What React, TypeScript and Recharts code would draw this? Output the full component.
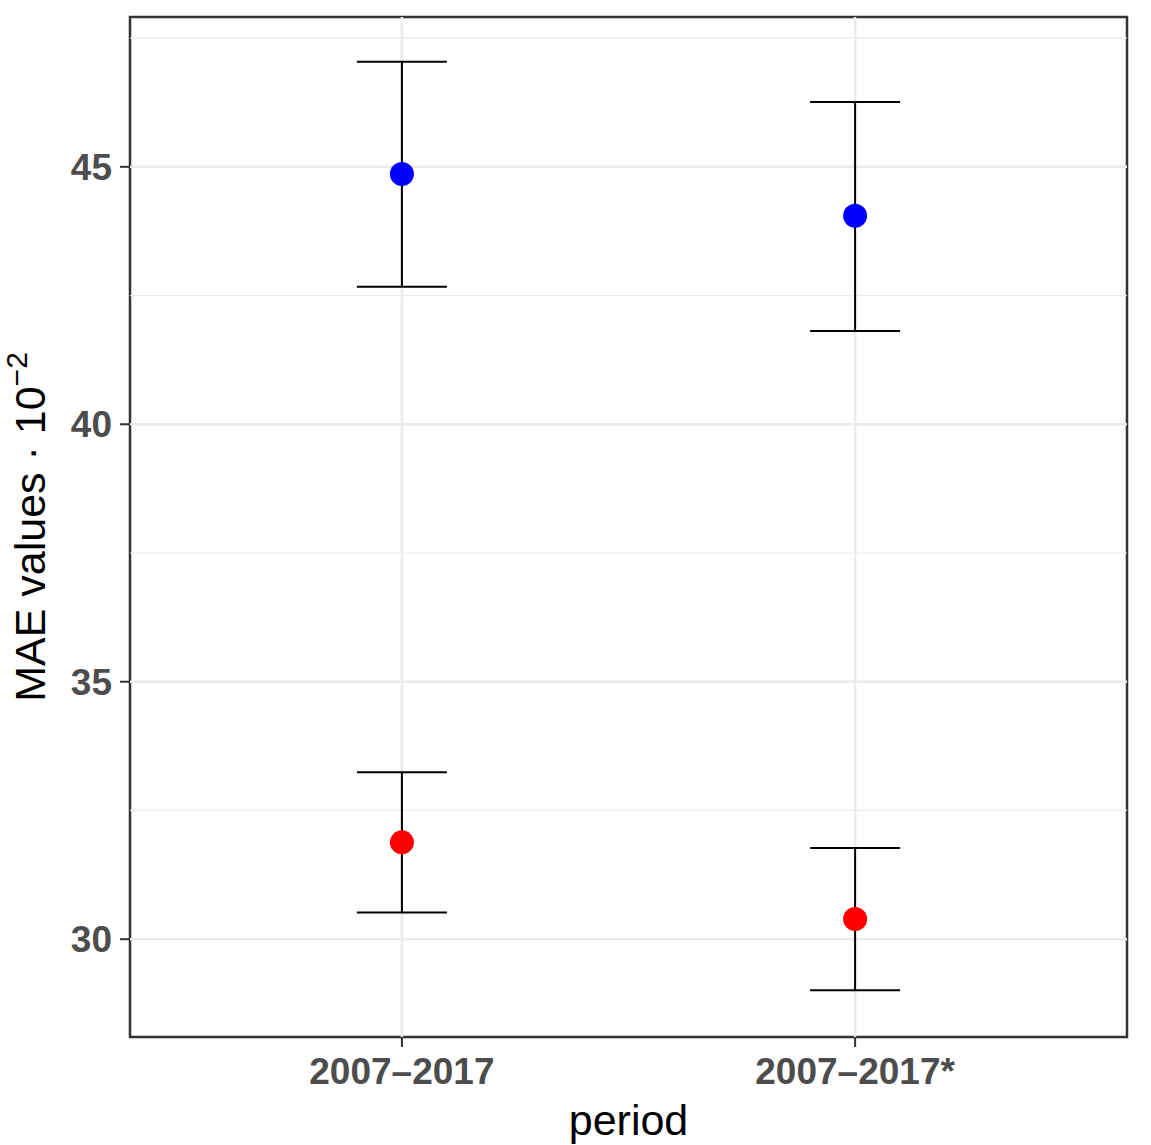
import React from 'react';
import { ScatterChart, Scatter, XAxis, YAxis, ErrorBar, ReferenceLine, ReferenceArea } from 'recharts';

const categories = ['2007–2017', '2007–2017*'];
const blueValues = [44.86, 44.05];
const blueLow = [42.67, 41.81];
const blueHigh = [47.04, 46.26];
const redValues = [31.88, 30.39];
const redLow = [30.52, 29.01];
const redHigh = [33.24, 31.77];
const yTicks = [30, 35, 40, 45];
const yMinor = [32.5, 37.5, 42.5, 47.5];

const build = (vals: number[], lo: number[], hi: number[]) =>
  vals.map((v, i) => ({ x: i + 1, y: v, err: [v - lo[i], hi[i] - v] }));

const blueData = build(blueValues, blueLow, blueHigh);
const redData = build(redValues, redLow, redHigh);

const W = 1151;
const H = 1145;
const Y_DOMAIN: [number, number] = [28.1, 47.91];
const X_DOMAIN: [number, number] = [0.4, 2.6];

const font = 'Liberation Sans, Arial, sans-serif';

const dot = (color: string) => (props: any) => (
  <circle cx={props.cx} cy={props.cy} r={12} fill={color} />
);
const blank = () => <g />;

const YTitle = () => (
  <text
    x={0}
    y={0}
    transform="translate(45, 527) rotate(-90)"
    textAnchor="middle"
    fontFamily={font}
    fontSize={43}
    fill="#000"
  >
    <tspan>MAE values · 10</tspan>
    <tspan fontSize={30} dy={-18}>−2</tspan>
  </text>
);

export default function App() {
  return (
    <div style={{ position: 'absolute', left: 0, top: 0, width: W, height: H, background: '#fff' }}>
      <ScatterChart width={W} height={H} margin={{ top: 17, right: 24, left: 0, bottom: 0 }}>
        <XAxis
          type="number"
          dataKey="x"
          domain={X_DOMAIN}
          ticks={[1, 2]}
          tickFormatter={(v: number) => categories[v - 1] ?? ''}
          axisLine={false}
          tickLine={{ stroke: '#333', strokeWidth: 2 }}
          tickSize={10}
          tickMargin={11}
          height={108}
          tick={{ fill: '#4D4D4D', fontSize: 37, fontWeight: 'bold', fontFamily: font }}
          label={{ value: 'period', position: 'insideBottom', offset: 10, fill: '#000', fontSize: 43, fontFamily: font }}
        />
        <YAxis
          type="number"
          dataKey="y"
          domain={Y_DOMAIN}
          ticks={yTicks}
          allowDataOverflow
          axisLine={false}
          tickLine={{ stroke: '#333', strokeWidth: 2 }}
          tickSize={10}
          tickMargin={8}
          width={130}
          tick={{ fill: '#4D4D4D', fontSize: 37, fontWeight: 'bold', fontFamily: font }}
        />
        {yMinor.map((v) => (
          <ReferenceLine key={'mi' + v} y={v} stroke="#EBEBEB" strokeWidth={1.2} />
        ))}
        {yTicks.map((v) => (
          <ReferenceLine key={'ma' + v} y={v} stroke="#EBEBEB" strokeWidth={2.5} />
        ))}
        {[1, 2].map((v) => (
          <ReferenceLine key={'vx' + v} x={v} stroke="#EBEBEB" strokeWidth={2.5} />
        ))}
        <Scatter data={blueData} fill="#0000FF" shape={dot('#0000FF')} isAnimationActive={false} />
        <Scatter data={redData} fill="#FF0000" shape={dot('#FF0000')} isAnimationActive={false} />
        <Scatter data={blueData} shape={blank} isAnimationActive={false}>
          <ErrorBar dataKey="err" direction="y" width={45} stroke="#000" strokeWidth={2} isAnimationActive={false} />
        </Scatter>
        <Scatter data={redData} shape={blank} isAnimationActive={false}>
          <ErrorBar dataKey="err" direction="y" width={45} stroke="#000" strokeWidth={2} isAnimationActive={false} />
        </Scatter>
        <ReferenceArea x1={X_DOMAIN[0]} x2={X_DOMAIN[1]} y1={Y_DOMAIN[0]} y2={Y_DOMAIN[1]} fill="none" fillOpacity={0} stroke="#333" strokeWidth={2.5} />
        <YTitle />
      </ScatterChart>
    </div>
  );
}
